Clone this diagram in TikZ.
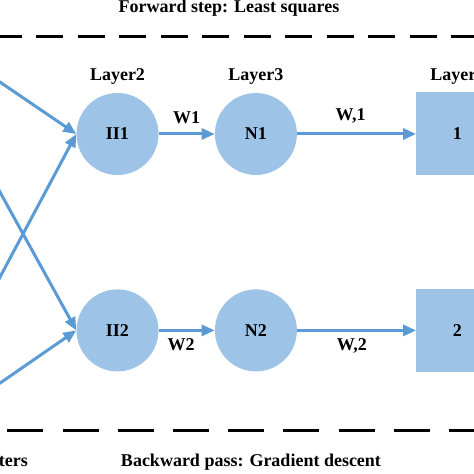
\documentclass[tikz,border=0pt]{standalone}
\usepackage{fontspec}
\setmainfont{Liberation Serif}
\usepackage{xcolor}
\usetikzlibrary{arrows.meta,positioning}
\definecolor{nodeblue}{HTML}{9DC3E6}
\definecolor{arrowblue}{HTML}{5B9BD5}

\begin{document}
\begin{tikzpicture}[
  x=1pt, y=1pt,
  font=\fontsize{18}{20}\selectfont\bfseries,
  neuron/.style={
    circle, fill=nodeblue, minimum size=82pt, inner sep=0pt
  },
  outbox/.style={
    rectangle, fill=nodeblue, minimum width=82pt,
    minimum height=83pt, inner sep=0pt
  },
  lbl/.style={inner sep=0pt, text=black},
  arr/.style={-{Triangle[length=13pt, width=11pt]}, line width=3pt, arrowblue},
  sep/.style={line width=3pt, dash pattern=on 27.3pt off 14.2pt}
]
\path[use as bounding box, clip] (0,0) rectangle (474,474);

% Layer 2
\node[neuron] (ii1) at (117.5,340) {II1};
\node[neuron, below=114pt of ii1] (ii2) {II2};

% Layer 3
\node[neuron, right=56pt of ii1] (n1) {N1};
\node[neuron, right=56pt of ii2] (n2) {N2};

% Layer 4
\node[outbox, right=119pt of n1] (out1) {1};
\node[outbox, right=119pt of n2] (out2) {2};

% Layer titles
\node[lbl, above=8pt of ii1] (lay2) {Layer2};
\node[lbl, above=8pt of n1] (lay3) {Layer3};
\node[lbl, above=8pt of out1.north west, anchor=south west, xshift=14pt] (lay4) {Layer};

% Inputs from the left
\coordinate (inA) at (-10,398.7);
\coordinate (inB) at (-10,178.2);
\coordinate (inC) at (-10,300);
\coordinate (inD) at (-10,84);

\draw[arr] (inA) -- (ii1.west);
\draw[arr] (inB) -- (ii1.west);
\draw[arr] (inC) -- (ii2.west);
\draw[arr] (inD) -- (ii2.west);

% Weights
\draw[arr] (ii1) -- node[lbl, above=9pt] {W1} (n1);
\draw[arr] (n1) -- node[lbl, above=9pt, pos=0.45] {W,1} (out1);
\draw[arr] (ii2) -- node[lbl, below=7pt, pos=0.4] {W2} (n2);
\draw[arr] (n2) -- node[lbl, below=7pt, pos=0.46] {W,2} (out2);

% Separators
\draw[sep] (-5.5,437) -- (480,437);
\draw[sep, dash pattern=on 36pt off 19.2pt] (7.3,43) -- (480,43);

% Pass titles
\node[lbl, anchor=base] (fwd) at (229,461) {Forward step: Least squares};
\node[lbl, anchor=base] (bwd) at (251,7) {Backward pass: Gradient descent};
\node[lbl, anchor=base east] (prem) at (28,7) {ters};

\end{tikzpicture}
\end{document}
